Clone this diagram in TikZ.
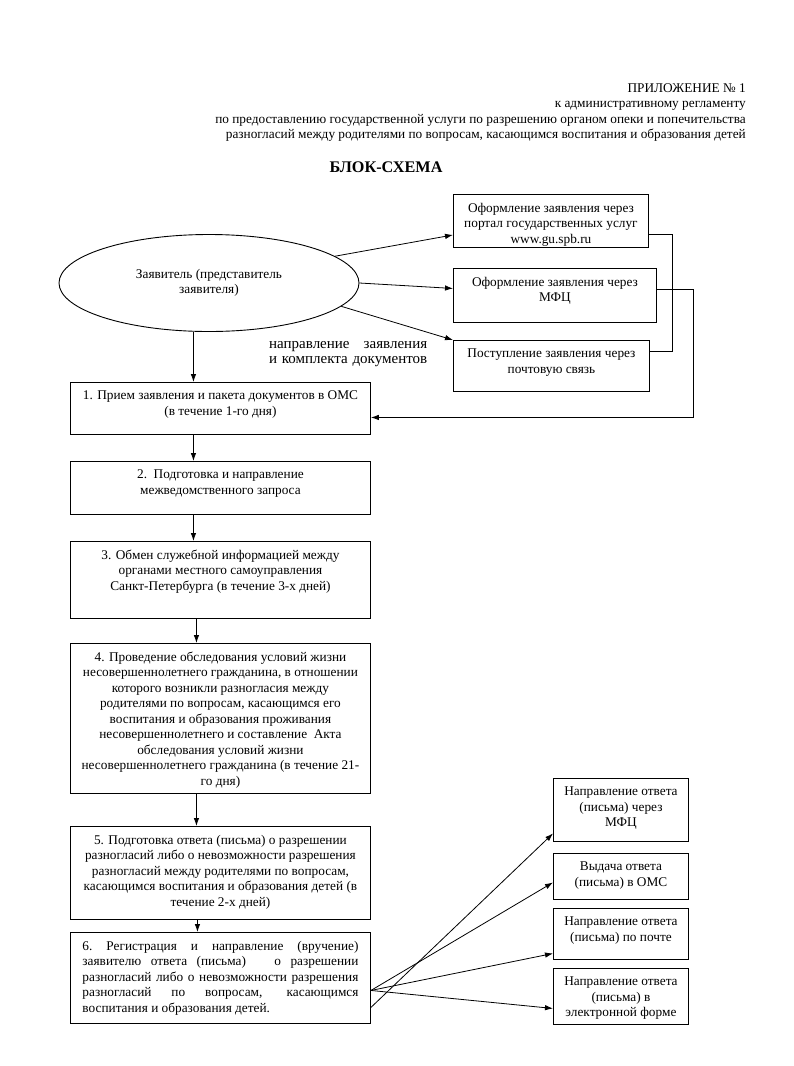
\documentclass[tikz,border=0pt]{standalone}
\usepackage{fontspec}
\setmainfont{Liberation Serif}
\usetikzlibrary{arrows.meta,shapes.geometric,calc}
\newcommand{\bxt}[3]{\parbox[c][#2][t]{#1}{\vspace*{8.5pt}\centering #3\par}}
\newcommand{\jl}[1]{\makebox[\linewidth][s]{#1}}
\tikzset{
  box/.style={draw,line width=0.9pt,inner sep=0pt,font=\fontsize{13.3}{15.5}\selectfont},
  arr/.style={line width=0.8pt,-{Latex[length=8pt,width=5.5pt]}},
  ln/.style={line width=0.8pt},
}
\begin{document}
\begin{tikzpicture}[x=1pt,y=-1pt]
\useasboundingbox[fill=white] (0,0) rectangle (793,1066);
% header
\node[anchor=north east,align=right,inner sep=0pt,font=\fontsize{13.3}{15.5}\selectfont] (hdr) at (746,83)
 {ПРИЛОЖЕНИЕ № 1\\к административному регламенту\\по предоставлению государственной услуги по разрешению органом опеки и попечительства\\разногласий между родителями по вопросам, касающимся воспитания и образования детей};
\node[font=\fontsize{16.2}{18}\selectfont\bfseries,inner sep=0pt] (ttl) at (386,167) {БЛОК-СХЕМА};
% applicant
\node[draw,ellipse,line width=0.9pt,minimum width=300,minimum height=97,inner sep=0pt,align=center,font=\fontsize{13.3}{15.5}\selectfont] (ell) at (209,283)
 {Заявитель (представитель\\заявителя)};
% top right boxes
\node[box,anchor=north west] (A) at (453,194) {\bxt{195pt}{53pt}{Оформление заявления через\\портал государственных услуг\\www.gu.spb.ru}};
\node[box,anchor=north west] (B) at (453,268) {\bxt{203pt}{54pt}{Оформление заявления через\\МФЦ}};
\node[box,anchor=north west] (C) at (453,340) {\bxt{196pt}{51pt}{Поступление заявления через\\почтовую связь}};
\node[anchor=north west,inner sep=0pt,font=\fontsize{15}{15.5}\selectfont] (lbl) at (269,341)
 {\parbox{158pt}{\jl{направление заявления}\\\jl{и комплекта документов}}};
% main column
\node[box,anchor=north west] (b1) at (70,382) {\bxt{300pt}{52pt}{1. Прием заявления и пакета документов в ОМС\\(в течение 1-го дня)}};
\node[box,anchor=north west] (b2) at (70,461) {\bxt{300pt}{53pt}{2.\ \ Подготовка и направление\\межведомственного запроса}};
\node[box,anchor=north west] (b3) at (70,541) {\bxt{300pt}{77pt}{3. Обмен служебной информацией между\\органами местного самоуправления\\Санкт-Петербурга (в течение 3-х дней)}};
\node[box,anchor=north west] (b4) at (70,643) {\bxt{300pt}{150pt}{4. Проведение обследования условий жизни\\несовершеннолетнего гражданина, в отношении\\которого возникли разногласия между\\родителями по вопросам, касающимся его\\воспитания и образования проживания\\несовершеннолетнего и составление\ \ Акта\\обследования условий жизни\\несовершеннолетнего гражданина (в течение 21-\\го дня)}};
\node[box,anchor=north west] (b5) at (70,826) {\bxt{300pt}{93pt}{5. Подготовка ответа (письма) о разрешении\\разногласий либо о невозможности разрешения\\разногласий между родителями по вопросам,\\касающимся воспитания и образования детей (в\\течение 2-х дней)}};
\node[box,anchor=north west] (b6) at (70,932) {\parbox[c][91pt][t]{300pt}{\vspace*{8.5pt}\hspace*{12pt}\parbox[t]{276pt}{\jl{6.\ Регистрация и направление (вручение)}\\\jl{заявителю ответа (письма)\ \ \ о разрешении}\\\jl{разногласий либо о невозможности разрешения}\\\jl{разногласий по вопросам, касающимся}\\воспитания и образования детей.}}};
% bottom right boxes
\node[box,anchor=north west] (r1) at (553,778) {\bxt{135pt}{63pt}{Направление ответа\\(письма) через\\МФЦ}};
\node[box,anchor=north west] (r2) at (553,853) {\bxt{135pt}{46pt}{Выдача ответа\\(письма) в ОМС}};
\node[box,anchor=north west] (r3) at (553,908) {\bxt{135pt}{51pt}{Направление ответа\\(письма) по почте}};
\node[box,anchor=north west] (r4) at (553,968) {\bxt{135pt}{56pt}{Направление ответа\\(письма) в\\электронной форме}};
% connectors top
\draw[arr] (ell.12) -- ([yshift=-14pt]A.west);
\draw[arr] (ell.east) -- ([yshift=7pt]B.west);
\draw[arr] (ell.-10) -- (C.north west);
\draw[ln] ([yshift=-13pt]A.east) -- ++(23,0) |- ([yshift=14.5pt]C.east);
\draw[arr] ([yshift=6pt]B.east) -- ++(36,0) |- ([yshift=-9pt]b1.east);
\coordinate (c1) at ([xshift=-27pt]b1.north);
\draw[arr] (ell.south -| c1) -- (c1);
\coordinate (c2) at ([xshift=-27pt]b2.north);
\draw[arr] (b1.south -| c2) -- (c2);
\coordinate (c3) at ([xshift=-27pt]b3.north);
\draw[arr] (b2.south -| c3) -- (c3);
\coordinate (c4) at ([xshift=-24pt]b4.north);
\draw[arr] (b3.south -| c4) -- (c4);
\coordinate (c5) at ([xshift=-24pt]b5.north);
\draw[arr] (b4.south -| c5) -- (c5);
\coordinate (c6) at ([xshift=-23pt]b6.north);
\draw[arr] (b5.south -| c6) -- (c6);
% bottom fan
\draw[arr] ([yshift=-29.5pt]b6.east) -- ([yshift=-23.5pt]r1.west);
\draw[arr] ([yshift=-12.5pt]b6.east) -- ([yshift=-6pt]r2.west);
\draw[arr] ([yshift=-12.5pt]b6.east) -- ([yshift=-19.5pt]r3.west);
\draw[arr] ([yshift=-12.5pt]b6.east) -- ([yshift=-12pt]r4.west);
\end{tikzpicture}
\end{document}
